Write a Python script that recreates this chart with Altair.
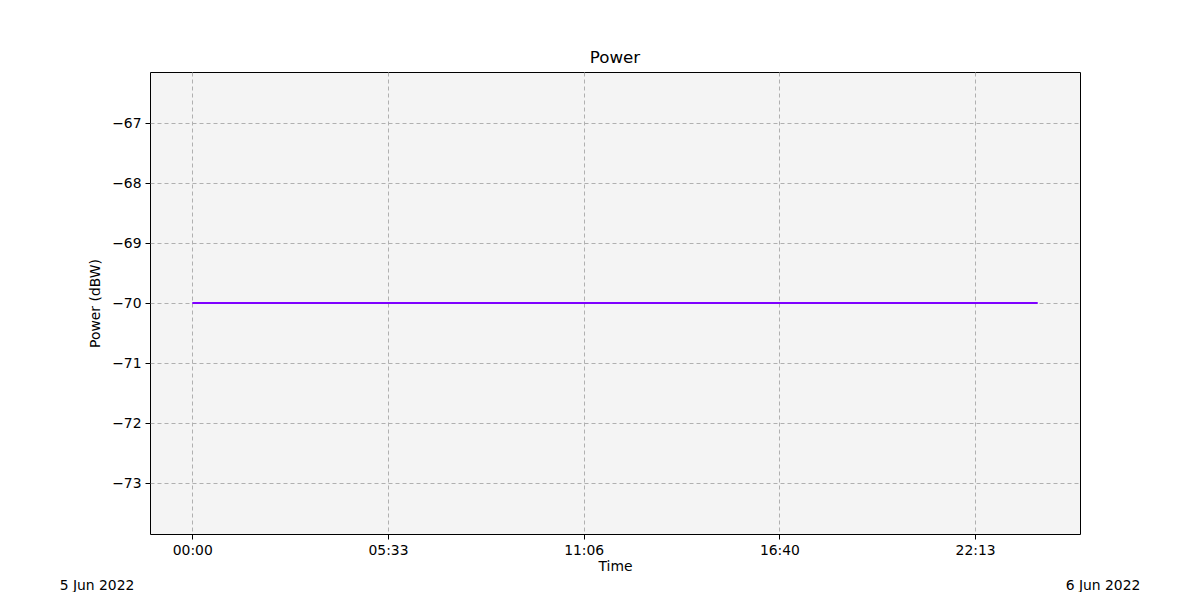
import altair as alt
import pandas as pd

# seconds since 2022-06-05 00:00 UTC
times = [0, 21600, 43200, 64800, 86400]
power = [-70, -70, -70, -70, -70]
x_ticks = [0, 20000, 40000, 60000, 80000]
y_ticks = [-73, -72, -71, -70, -69, -68, -67]
date_labels = ["5 Jun 2022", "6 Jun 2022"]

df = pd.DataFrame({"t": times, "p": power})
FONT = "DejaVu Sans"
FS = 13.9

base = alt.Chart(df)

line = base.mark_line(color="#7f00ff", strokeWidth=2, clip=True).encode(
    x=alt.X(
        "t:Q",
        scale=alt.Scale(domain=[-4320, 90720], nice=False, zero=False),
        axis=alt.Axis(
            values=x_ticks,
            labelExpr="utcFormat(datum.value*1000, '%H:%M')",
            title="Time",
            grid=True,
            gridDash=[4, 3],
            gridColor="#b0b0b0",
            gridWidth=1,
            domain=False,
            tickColor="black",
            tickSize=5,
            labelFontSize=FS,
            labelColor="black",
            labelFont=FONT,
            labelPadding=4,
            titleFont=FONT,
            titleFontSize=FS,
            titleFontWeight="normal",
            titleColor="black",
            titlePadding=3,
        ),
    ),
    y=alt.Y(
        "p:Q",
        scale=alt.Scale(domain=[-73.85, -66.15], nice=False, zero=False),
        axis=alt.Axis(
            values=y_ticks,
            format="d",
            title="Power (dBW)",
            grid=True,
            gridDash=[4, 3],
            gridColor="#b0b0b0",
            gridWidth=1,
            domain=False,
            tickColor="black",
            tickSize=5,
            labelFontSize=FS,
            labelColor="black",
            labelFont=FONT,
            labelPadding=4,
            titleFont=FONT,
            titleFontSize=FS,
            titleFontWeight="normal",
            titleColor="black",
            titlePadding=9,
        ),
    ),
)

dates_df = pd.DataFrame({"label": date_labels, "px": [-53, 953]})
dates = alt.Chart(dates_df).mark_text(
    font=FONT, fontSize=FS, color="black", baseline="middle", align="center"
).encode(
    x=alt.X("px:Q", scale=None),
    y=alt.value(514),
    text="label:N",
)

chart = (
    alt.layer(line, dates)
    .properties(
        width=930,
        height=462,
        title=alt.TitleParams(
            "Power", font=FONT, fontSize=16.7, fontWeight="normal", color="black", offset=5
        ),
        autosize=alt.AutoSizeParams(type="none"),
        padding={"left": 142, "top": 64, "right": 112, "bottom": 58},
        background="white",
    )
    .configure_view(fill="#f4f4f4", stroke="black", strokeWidth=1)
)

chart.save("out.html", embed_options={"renderer": "svg", "actions": False})
